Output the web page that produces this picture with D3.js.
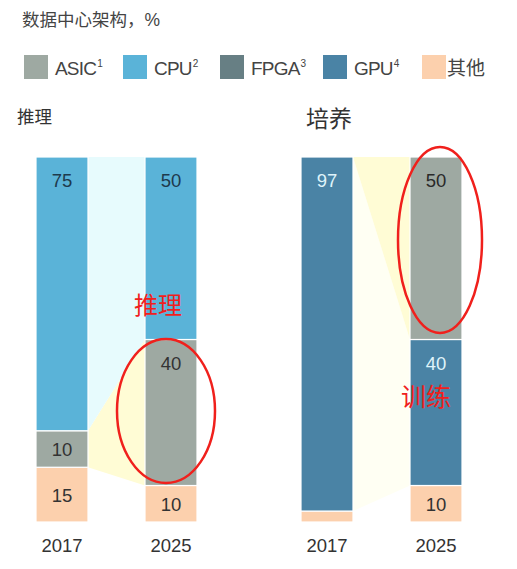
<!DOCTYPE html>
<html>
<head>
<meta charset="utf-8">
<script src="https://cdn.jsdelivr.net/npm/d3@7"></script>
<style>
  body { margin: 0; background: #fff; }
  text { font-family: "Liberation Sans", "Noto Sans CJK SC", sans-serif; }
</style>
</head>
<body>
<div class="canvas"></div>
<script>
// data
const years = ['2017', '2025'];
const seriesNames = ['ASIC', 'CPU', 'FPGA', 'GPU', '其他'];
const seriesSup = ['1', '2', '3', '4', ''];
const seriesColors = ['#9ea9a2', '#5ab3d8', '#677f84', '#4a83a5', '#fcd0ad'];

// inference (推理), stacked from bottom: 其他, ASIC, CPU
const inferOther = [15, 10];
const inferASIC = [10, 40];
const inferCPU = [75, 50];
// training (培养), stacked from bottom: 其他, GPU, ASIC
const trainOther = [3, 10];
const trainGPU = [97, 40];
const trainASIC = [0, 50];

const width = 517, height = 569;
const svg = d3.select('.canvas')
  .append('svg')
    .attr('width', width)
    .attr('height', height);

const color = d3.scaleOrdinal().domain(seriesNames).range(seriesColors);
const y = d3.scaleLinear().domain([0, 100]).range([522, 157]);

// title
svg.append('text')
  .attr('x', 22).attr('y', 26)
  .attr('font-size', 17.5).attr('fill', '#444')
  .text('数据中心架构，%');

// legend
const legendX = [24, 123, 220, 323, 422];
const legend = svg.selectAll('.legend')
  .data(seriesNames)
  .enter().append('g')
    .attr('transform', (d, i) => `translate(${legendX[i]},55)`);
legend.append('rect')
  .attr('width', 24).attr('height', 24)
  .attr('fill', d => color(d));
legend.append('text')
  .attr('x', (d, i) => i === 4 ? 25 : 31).attr('y', 20)
  .attr('font-size', 19).attr('fill', '#444')
  .attr('letter-spacing', (d, i) => i === 4 ? 0 : -0.8)
  .text(d => d)
  .append('tspan')
    .attr('font-size', 10).attr('dy', -8).attr('dx', 1)
    .text((d, i) => seriesSup[i]);

function panel(x0, x1, title, titleX, titleSize, titleBase, keys, values, bandColors, labelColors) {
  const x = d3.scaleBand()
    .domain(years)
    .range([x0, x1])
    .paddingInner(0.523)
    .paddingOuter(0);

  const rows = years.map((yr, i) => {
    const row = { year: yr };
    keys.forEach(k => row[k] = values[k][i]);
    return row;
  });
  const stacked = d3.stack().keys(keys)(rows);

  const g = svg.append('g');

  g.append('text')
    .attr('x', titleX).attr('y', titleBase)
    .attr('font-size', titleSize).attr('fill', '#333')
    .text(title);

  // connector bands between the two bars
  g.selectAll('.band')
    .data(stacked.filter(s => bandColors[s.key]))
    .enter().append('path')
      .attr('fill', s => bandColors[s.key])
      .attr('d', s => {
        const a = s[0], b = s[1];
        const xa = x('2017') + x.bandwidth(), xb = x('2025');
        return `M${xa},${y(a[1])}L${xb},${y(b[1])}L${xb},${y(b[0])}L${xa},${y(a[0])}Z`;
      });

  const layer = g.selectAll('.layer')
    .data(stacked)
    .enter().append('g')
      .attr('fill', s => color(s.key));

  layer.selectAll('rect')
    .data(s => s.map(d => ({ key: s.key, d })))
    .enter().append('rect')
      .attr('x', e => x(e.d.data.year))
      .attr('width', x.bandwidth())
      .attr('y', e => y(e.d[1]))
      .attr('height', e => y(e.d[0]) - y(e.d[1]))
      .attr('stroke', '#fff')
      .attr('stroke-width', 1.2);

  layer.selectAll('text')
    .data(s => s.map(d => ({ key: s.key, d })).filter(e => e.d[1] - e.d[0] >= 10))
    .enter().append('text')
      .attr('x', e => x(e.d.data.year) + x.bandwidth() / 2)
      .attr('y', e => {
        const top = y(e.d[1]), h = y(e.d[0]) - top;
        return h > 80 ? top + 30 : top + h / 2 + 7;
      })
      .attr('text-anchor', 'middle')
      .attr('font-size', 18.5)
      .attr('fill', e => labelColors[e.key])
      .text(e => e.d[1] - e.d[0]);

  // year axis
  const axis = g.append('g')
    .attr('transform', 'translate(0,522)')
    .call(d3.axisBottom(x).tickSize(0).tickPadding(17));
  axis.select('.domain').remove();
  axis.selectAll('text')
    .attr('font-size', 18.5)
    .attr('fill', '#333')
    .attr('font-family', '"Liberation Sans", sans-serif');
}

panel(36, 197, '推理', 17, 17.5, 123,
  ['其他', 'ASIC', 'CPU'],
  { '其他': inferOther, 'ASIC': inferASIC, 'CPU': inferCPU },
  { 'CPU': '#e7fbfd', 'ASIC': '#fffcd5' },
  { 'CPU': '#1e3a4d', 'ASIC': '#333', '其他': '#333' });

panel(301, 462, '培养', 306, 23, 127,
  ['其他', 'GPU', 'ASIC'],
  { '其他': trainOther, 'GPU': trainGPU, 'ASIC': trainASIC },
  { 'ASIC': '#fffcd5', 'GPU': '#fffff3' },
  { 'GPU': '#dff3fa', 'ASIC': '#2a2a2a', '其他': '#333' });

// red annotations
const notes = svg.append('g');
notes.append('ellipse')
  .attr('cx', 166).attr('cy', 411).attr('rx', 49).attr('ry', 72)
  .attr('fill', 'none').attr('stroke', '#f0201c').attr('stroke-width', 2.5);
notes.append('ellipse')
  .attr('cx', 440).attr('cy', 240).attr('rx', 42).attr('ry', 93)
  .attr('fill', 'none').attr('stroke', '#f0201c').attr('stroke-width', 2.5);
notes.append('text')
  .attr('x', 134).attr('y', 314)
  .attr('font-size', 24).attr('fill', '#f0201c')
  .text('推理');
notes.append('text')
  .attr('x', 401).attr('y', 406)
  .attr('font-size', 25).attr('fill', '#f0201c')
  .text('训练');
</script>
</body>
</html>
